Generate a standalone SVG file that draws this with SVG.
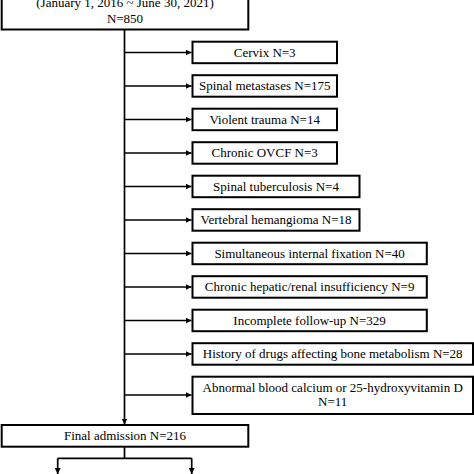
<svg xmlns="http://www.w3.org/2000/svg" width="474" height="474" viewBox="0 0 474 474">
<style>
.box{fill:#fff;stroke:#000;stroke-width:2}
.ln{fill:none;stroke:#000;stroke-width:1.7}
text{font-family:"Liberation Serif","Times New Roman",serif;font-size:13px;fill:#000;text-anchor:middle}
</style>
<defs>
<marker id="ah" viewBox="0 0 10 10" refX="10" refY="5" markerWidth="6" markerHeight="6" markerUnits="userSpaceOnUse" orient="auto">
<path d="M0,0 L10,5 L0,10 z" fill="#000"/>
</marker>
</defs>
<g id="connectors">
<path class="ln" d="M124.5,29 V424.5" marker-end="url(#ah)"/>
<path class="ln" d="M124.5,52.5 H191.5" marker-end="url(#ah)"/>
<path class="ln" d="M124.5,86 H191.5" marker-end="url(#ah)"/>
<path class="ln" d="M124.5,119.5 H191.5" marker-end="url(#ah)"/>
<path class="ln" d="M124.5,153 H191.5" marker-end="url(#ah)"/>
<path class="ln" d="M124.5,186.5 H191.5" marker-end="url(#ah)"/>
<path class="ln" d="M124.5,220 H191.5" marker-end="url(#ah)"/>
<path class="ln" d="M124.5,253.5 H191.5" marker-end="url(#ah)"/>
<path class="ln" d="M124.5,287 H191.5" marker-end="url(#ah)"/>
<path class="ln" d="M124.5,320.5 H191.5" marker-end="url(#ah)"/>
<path class="ln" d="M124.5,354 H191.5" marker-end="url(#ah)"/>
<path class="ln" d="M124.5,395 H191.5" marker-end="url(#ah)"/>
<path class="ln" d="M124.5,447 V458.3 M57.7,458.3 H191.7"/>
<path class="ln" d="M57.7,458.3 V474" marker-end="url(#ah)"/>
<path class="ln" d="M191.7,458.3 V474" marker-end="url(#ah)"/>
</g>
<g id="n-start">
<rect class="box" x="1.7" y="-20" width="246.6" height="49.5"/>
<text x="125" y="7.3">(January 1, 2016 ~ June 30, 2021)</text>
<text x="125" y="22.7">N=850</text>
</g>
<g id="n-cervix">
<rect class="box" x="192.5" y="41.7" width="144.5" height="21.5"/>
<text x="264.7" y="56.8">Cervix N=3</text>
</g>
<g id="n-metastases">
<rect class="box" x="192.5" y="75.2" width="144.5" height="21.5"/>
<text x="264.7" y="90.3">Spinal metastases N=175</text>
</g>
<g id="n-trauma">
<rect class="box" x="192.5" y="108.7" width="144.5" height="21.5"/>
<text x="264.7" y="123.8">Violent trauma N=14</text>
</g>
<g id="n-ovcf">
<rect class="box" x="192.5" y="142.2" width="144.5" height="21.5"/>
<text x="264.7" y="157.3">Chronic OVCF N=3</text>
</g>
<g id="n-tb">
<rect class="box" x="192.5" y="175.7" width="167" height="21.5"/>
<text x="276" y="190.8">Spinal tuberculosis N=4</text>
</g>
<g id="n-hemangioma">
<rect class="box" x="192.5" y="209.2" width="167" height="21.5"/>
<text x="276" y="224.3">Vertebral hemangioma N=18</text>
</g>
<g id="n-fixation">
<rect class="box" x="192.5" y="242.7" width="234.3" height="21.5"/>
<text x="309.6" y="257.8">Simultaneous internal fixation N=40</text>
</g>
<g id="n-hepatic">
<rect class="box" x="192.5" y="276.2" width="234.3" height="21.5"/>
<text x="309.6" y="291.3">Chronic hepatic/renal insufficiency N=9</text>
</g>
<g id="n-followup">
<rect class="box" x="192.5" y="309.7" width="234.3" height="21.5"/>
<text x="309.6" y="324.8">Incomplete follow-up N=329</text>
</g>
<g id="n-drugs">
<rect class="box" x="192.5" y="343.2" width="280.5" height="21.5"/>
<text x="332.7" y="358.3">History of drugs affecting bone metabolism N=28</text>
</g>
<g id="n-calcium">
<rect class="box" x="192.5" y="376.7" width="280.5" height="37.3"/>
<text x="332.7" y="391.5">Abnormal blood calcium or 25-hydroxyvitamin D</text>
<text x="332.7" y="405.7">N=11</text>
</g>
<g id="n-final">
<rect class="box" x="1.7" y="425" width="246.6" height="21.7"/>
<text x="125" y="440">Final admission N=216</text>
</g>
</svg>
